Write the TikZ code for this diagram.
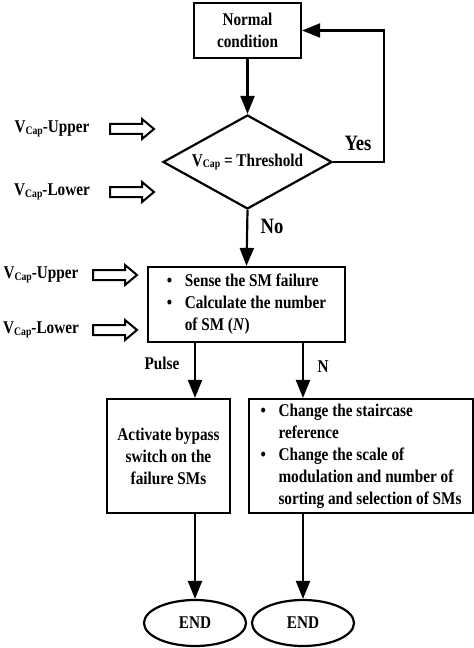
\documentclass[tikz,border=0pt]{standalone}
\usepackage{fontspec}
\setmainfont{Liberation Serif}[FakeStretch=0.85]
\usetikzlibrary{arrows.meta,shapes.geometric}
\newcommand{\vcap}{V{\fontsize{11.5}{11.5}\selectfont\raisebox{-1.5bp}{Cap}}}
\newcommand{\hollowarrow}[1]{\draw[line width=2bp] #1 ++(0,-5) -- ++(32,0) -- ++(0,-5) -- ++(12,10) -- ++(-12,10) -- ++(0,-5) -- ++(-32,0) -- cycle;}
\begin{document}
\begin{tikzpicture}[x=1bp, y=-1bp, line width=2.2bp,
    every node/.style={font=\bfseries\fontsize{18}{22}\selectfont, inner sep=0},
    box/.style={draw, rectangle, align=center},
    flow/.style={-{Triangle[length=18bp,width=14bp]}}]
            \useasboundingbox (0,0) rectangle (474,648);
            \node[box, minimum width=107bp, minimum height=55bp] (norm) at (247.5,30.5) {Normal\\condition};
            \node[diamond, draw, minimum width=169bp, minimum height=94bp,
                  label={center:\vcap{} = Threshold}] (dec) at (247.5,162) {};
            \node[box, minimum width=197bp, minimum height=75bp] (sense) at (246.5,304.5)
                {\begin{tabular}{@{}p{18bp}@{}l@{}}\textbullet & Sense the SM failure\\ \textbullet & Calculate the number\\ & of SM (\textit{N})\end{tabular}};
            \node[box, minimum width=123bp, minimum height=114bp] (act) at (168.5,456) {Activate bypass\\switch on the\\failure SMs};
            \node[box, minimum width=224bp, minimum height=114bp] (chg) at (361,456)
                {\begin{tabular}{@{}p{18bp}@{}l@{}}\textbullet & Change the staircase\\ & reference\\ \textbullet & Change the scale of\\ & modulation and number of\\ & sorting and selection of SMs\end{tabular}};
            \node[ellipse, draw, minimum width=102bp, minimum height=46bp] (endA) at (195,623) {END};
            \node[ellipse, draw, minimum width=102bp, minimum height=46bp] (endB) at (303,623) {END};

            \node (upA) at (52,129) {\vcap-Upper};
            \node (loA) at (52,192) {\vcap-Lower};
            \node (upB) at (41,275) {\vcap-Upper};
            \node (loB) at (41,330) {\vcap-Lower};
            \node[font=\bfseries\fontsize{22}{22}\selectfont] (yes) at (358,143) {Yes};
            \node[font=\bfseries\fontsize{22}{22}\selectfont] (no) at (272,226) {No};
            \node (pulse) at (162,363) {Pulse};
            \node (nlab) at (323,367) {N};

            \hollowarrow{(110,129)}
            \hollowarrow{(110,192)}
            \hollowarrow{(93,275)}
            \hollowarrow{(93,330)}

            \draw[flow] (norm) -- (dec);
            \draw[flow] (dec.east) -- (384,162) |- (norm.east);
            \draw[flow] (dec.south) -- (sense.north);
            \draw[flow] (endA |- sense.south) -- (endA |- act.north);
            \draw[flow] (endB |- sense.south) -- (endB |- chg.north);
            \draw[flow] (endA |- act.south) -- (endA);
            \draw[flow] (endB |- chg.south) -- (endB);
        \end{tikzpicture}
\end{document}
